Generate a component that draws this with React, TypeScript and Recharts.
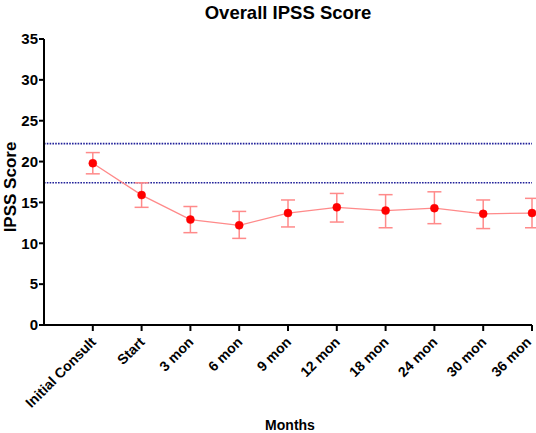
import React from "react";
import {
  LineChart,
  Line,
  XAxis,
  YAxis,
  ErrorBar,
  ReferenceLine,
} from "recharts";

const categories = [
  "Initial Consult",
  "Start",
  "3 mon",
  "6 mon",
  "9 mon",
  "12 mon",
  "18 mon",
  "24 mon",
  "30 mon",
  "36 mon",
];
const meanScore = [19.8, 15.9, 12.9, 12.2, 13.7, 14.4, 14.0, 14.3, 13.6, 13.7];
const lowerScore = [18.5, 14.4, 11.3, 10.6, 12.0, 12.6, 11.9, 12.4, 11.8, 11.9];
const upperScore = [21.1, 17.4, 14.5, 13.9, 15.3, 16.1, 15.95, 16.3, 15.3, 15.5];
const referenceLevels = [22.2, 17.4];
const yTicks = [0, 5, 10, 15, 20, 25, 30, 35];

const rows = categories.map((name, i) => ({
  x: i + 1,
  name,
  mean: meanScore[i],
  err: [meanScore[i] - lowerScore[i], upperScore[i] - meanScore[i]],
}));

const FONT = "'Liberation Sans', Arial, sans-serif";

const XTick = (props: any) => {
  const { x, y, payload } = props;
  return (
    <text
      x={x + 4}
      y={y + 10}
      textAnchor="end"
      transform={`rotate(-45, ${x + 4}, ${y + 10})`}
      fontFamily={FONT}
      fontWeight="bold"
      fontSize={14}
      fill="#000"
    >
      {categories[payload.value - 1]}
    </text>
  );
};

// axis titles placed by hand so they sit where the reference has them
const YTitle = () => (
  <text
    x={16}
    y={187}
    transform="rotate(-90, 16, 187)"
    textAnchor="middle"
    fontFamily={FONT}
    fontWeight="bold"
    fontSize={17}
    fill="#000"
  >
    IPSS Score
  </text>
);

const XTitle = () => (
  <text
    x={290}
    y={430}
    textAnchor="middle"
    fontFamily={FONT}
    fontWeight="bold"
    fontSize={14}
    fill="#000"
  >
    Months
  </text>
);

export default function App() {
  return (
    <div style={{ position: "absolute", left: 0, top: 0, width: 536, height: 433, background: "#fff" }}>
      <div
        style={{
          position: "absolute",
          left: 44,
          width: 488,
          top: 2,
          textAlign: "center",
          fontFamily: FONT,
          fontWeight: "bold",
          fontSize: 18.5,
          color: "#000",
        }}
      >
        Overall IPSS Score
      </div>
      <LineChart
        width={536}
        height={433}
        data={rows}
        margin={{ top: 39, right: 4, left: 0, bottom: 0 }}
      >
        <XAxis
          dataKey="x"
          type="number"
          domain={[0, 10]}
          ticks={[1, 2, 3, 4, 5, 6, 7, 8, 9, 10]}
          height={108}
          tick={<XTick />}
          tickSize={6}
          axisLine={{ stroke: "#000", strokeWidth: 2 }}
          tickLine={{ stroke: "#000", strokeWidth: 2 }}
          label={<XTitle />}
        />
        <YAxis
          type="number"
          domain={[0, 35]}
          ticks={yTicks}
          width={44}
          tickSize={5}
          tickMargin={1}
          interval={0}
          axisLine={{ stroke: "#000", strokeWidth: 2 }}
          tickLine={{ stroke: "#000", strokeWidth: 2 }}
          tick={{ fontFamily: FONT, fontWeight: "bold", fontSize: 15, fill: "#000" }}
          label={<YTitle />}
        />
        {referenceLevels.map((v) => (
          <ReferenceLine
            key={v}
            y={v}
            stroke="#22229a"
            strokeWidth={1.6}
            strokeDasharray="1.6 1.2"
          />
        ))}
        <Line
          dataKey="mean"
          stroke="#ff8a8a"
          strokeWidth={1.3}
          dot={{ r: 4, fill: "#ff0000", stroke: "#ff0000", strokeWidth: 0.5 }}
          isAnimationActive={false}
        >
          <ErrorBar dataKey="err" direction="y" width={7} stroke="#ff8a8a" strokeWidth={1.5} />
        </Line>
      </LineChart>
    </div>
  );
}
